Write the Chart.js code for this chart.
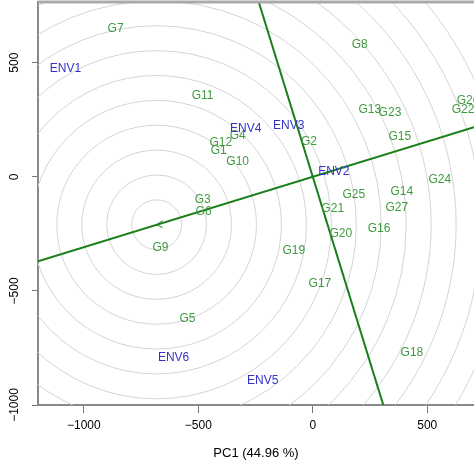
<!DOCTYPE html><html><head><meta charset="utf-8">
<script src="https://cdn.jsdelivr.net/npm/chart.js@4"></script>
<style>html,body{margin:0;padding:0;background:#fff}#w{width:474px;height:474px}</style></head><body>
<div id="w"><canvas id="c"></canvas></div>
<script>
const genoLabels=["G7","G8","G11","G13","G23","G22","G26","G4","G2","G12","G1","G10","G15","G24","G14","G25","G27","G3","G6","G21","G16","G20","G9","G19","G17","G5","G18"];
const genoX=[-861,205,-481,249,337,656,678,-328,-17,-402,-411,-328,380,555,389,179,367,-481,-477,87,289,122,-665,-83,31,-547,433];
const genoY=[649,579,355,294,281,294,333,180,154,149,114,66,175,-13,-66,-79,-136,-101,-154,-140,-228,-250,-311,-325,-469,-623,-772];
const envLabels=["ENV1","ENV4","ENV3","ENV2","ENV6","ENV5"];
const envX=[-1080,-293,-105,92,-608,-219];
const envY=[474,211,224,22,-794,-895];
const atcX=[-1200,704], atcY=[-370,217];
const perpX=[-236,308], perpY=[766,-1000];
const center=[-682,-210];
const ringRadii=[109,218,327,436,545,654,763,872,981,1090,1199,1308,1417,1526];
const xTicks=[-1000,-500,0,500], yTicks=[-1000,-500,0,500];
const plug={id:'p',
beforeDatasetsDraw(ch){const {ctx,chartArea:a,scales:{x,y}}=ch;ctx.save();ctx.beginPath();ctx.rect(a.left,a.top,a.right-a.left,a.bottom-a.top);ctx.clip();
ctx.strokeStyle='#d4d4d4';ctx.lineWidth=1;const cx=x.getPixelForValue(center[0]),cy=y.getPixelForValue(center[1]);
const sx=(x.getPixelForValue(1000)-x.getPixelForValue(0))/1000, sy=(y.getPixelForValue(0)-y.getPixelForValue(1000))/1000;
ringRadii.forEach(r=>{ctx.beginPath();ctx.ellipse(cx,cy,r*sx,r*sy,0,0,Math.PI*2);ctx.stroke();});
ctx.restore();},
afterDatasetsDraw(ch){const {ctx,chartArea:a,scales:{x,y}}=ch;ctx.save();ctx.beginPath();ctx.rect(a.left,0,a.right-a.left,a.bottom);ctx.clip();
ctx.font='12px "Liberation Sans", Arial';ctx.textAlign='center';ctx.textBaseline='middle';
ctx.fillStyle='#3f9a3f';genoLabels.forEach((l,i)=>ctx.fillText(l,x.getPixelForValue(genoX[i]),y.getPixelForValue(genoY[i])));
ctx.fillStyle='#3333cc';envLabels.forEach((l,i)=>ctx.fillText(l,x.getPixelForValue(envX[i]),y.getPixelForValue(envY[i])));
const cx=x.getPixelForValue(center[0]),cy=y.getPixelForValue(center[1]);ctx.strokeStyle='#1a8a1a';ctx.lineWidth=1;ctx.beginPath();ctx.moveTo(cx+6,cy-4);ctx.lineTo(cx,cy);ctx.lineTo(cx+6,cy+3);ctx.stroke();
ctx.restore();
ctx.save();ctx.fillStyle='#000';ctx.font='12px "Liberation Sans", Arial';ctx.textAlign='center';ctx.textBaseline='middle';
yTicks.forEach(t=>{ctx.save();ctx.translate(15,y.getPixelForValue(t));ctx.rotate(-Math.PI/2);ctx.fillText(String(t).replace('-','\u2212'),0,0);ctx.restore();});
ctx.strokeStyle='#aaa';ctx.lineWidth=3;ctx.beginPath();ctx.moveTo(a.left,a.top);ctx.lineTo(a.right,a.top);ctx.stroke();
ctx.restore();}};
new Chart(document.getElementById('c'),{type:'scatter',
data:{datasets:[
{data:atcX.map((v,i)=>({x:v,y:atcY[i]})),showLine:true,borderColor:'#1a7f1a',borderWidth:2,pointRadius:0},
{data:perpX.map((v,i)=>({x:v,y:perpY[i]})),showLine:true,borderColor:'#1a7f1a',borderWidth:2,pointRadius:0}]},
options:{animation:false,responsive:true,maintainAspectRatio:false,devicePixelRatio:1,
layout:{padding:{top:2,right:0,left:0,bottom:9}},
plugins:{legend:{display:false},tooltip:{enabled:false}},
scales:{
x:{type:'linear',min:-1200,max:704,afterBuildTicks(s){s.ticks=xTicks.map(v=>({value:v}));},
grid:{drawOnChartArea:false,tickLength:8,color:'#777'},border:{color:'#888',width:2},
ticks:{color:'#000',font:{size:12,family:'"Liberation Sans", Arial'},callback:v=>String(v).replace('-','\u2212'),maxRotation:0,padding:5},
title:{display:true,text:'PC1 (44.96 %)',color:'#000',font:{size:13,family:'"Liberation Sans", Arial'},padding:{top:8}}},
y:{type:'linear',min:-1000,max:766,afterBuildTicks(s){s.ticks=yTicks.map(v=>({value:v}));},afterFit(s){s.width=38;},
grid:{drawOnChartArea:false,tickLength:6,color:'#777'},border:{color:'#888',width:2},ticks:{display:false}}}},
plugins:[plug]});
</script></body></html>
